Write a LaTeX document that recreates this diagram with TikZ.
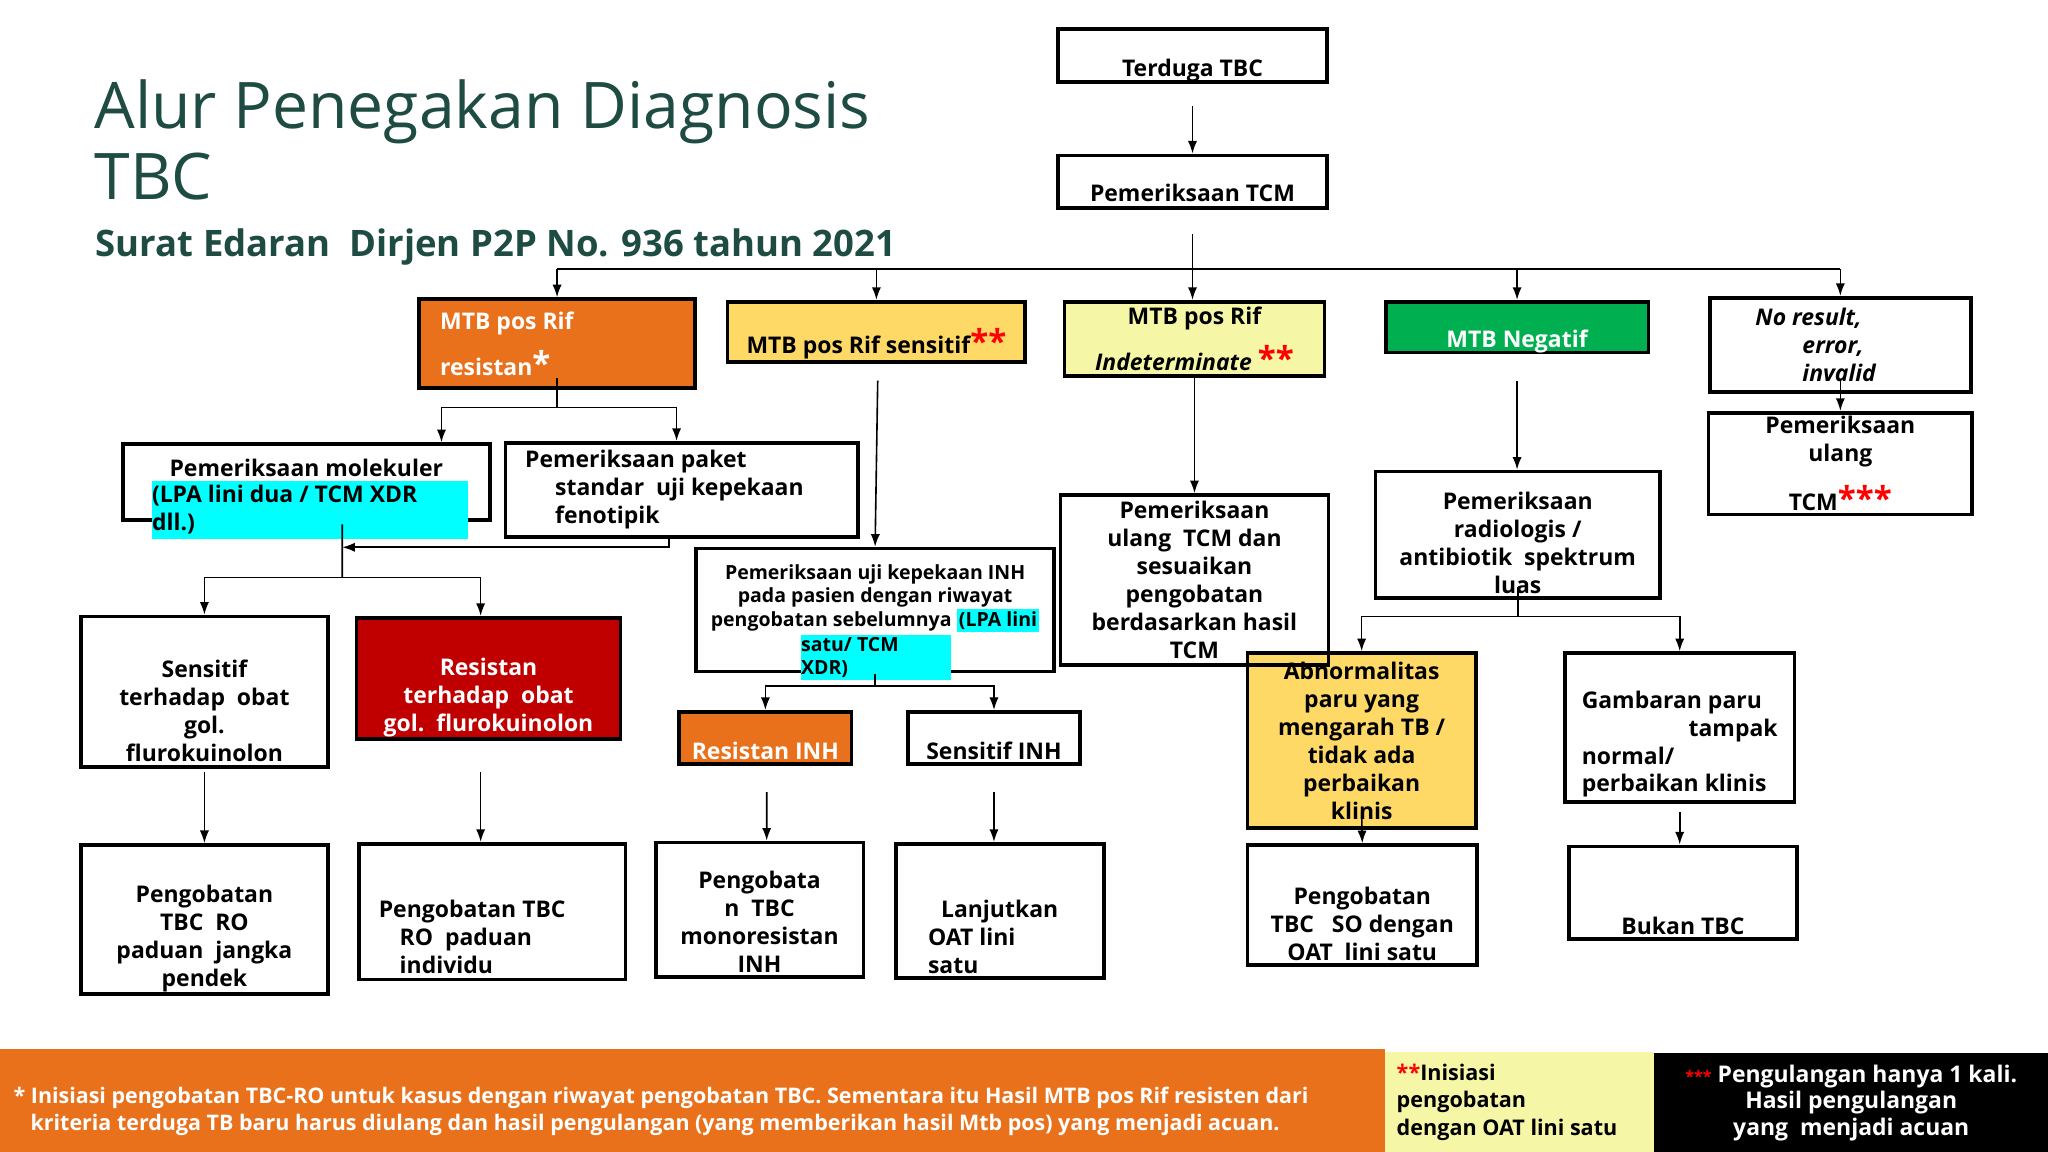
\documentclass[tikz,border=0pt]{standalone}
\usepackage{fontspec}
\setmainfont{Open Sans}
\newfontfamily\titlefont{Open Sans}
\usetikzlibrary{arrows.meta, calc}

\definecolor{tbcorange}{RGB}{233,113,28}
\definecolor{tbcgold}{RGB}{255,217,102}
\definecolor{tbcyellow}{RGB}{246,247,166}
\definecolor{tbcgreen}{RGB}{0,176,80}
\definecolor{tbcred}{RGB}{192,0,0}
\definecolor{tbccyan}{RGB}{0,255,255}
\definecolor{tbctitle}{RGB}{30,76,66}

\newcommand{\boxfont}{\fontsize{10}{12.2}\selectfont\bfseries}
\newcommand{\hlc}[1]{{\setlength{\fboxsep}{1pt}\colorbox{tbccyan}{#1}}}
\newcommand{\pad}[1]{\rule{0pt}{#1}}
\newcommand{\padb}[1]{\rule[-#1]{0pt}{0pt}}

\begin{document}
\begin{tikzpicture}[
        x=0.02cm, y=-0.02cm,
        box/.style={rectangle, draw=black, line width=1.6pt, fill=white, align=center, inner sep=1pt, font=\boxfont},
        sz/.style 2 args={minimum width=#1*0.02cm, minimum height=#2*0.02cm},
        low/.style={text height=#1, text depth=0pt},
        high/.style={text height=0pt, text depth=#1},
        hl/.style={fill=tbccyan, anchor=north west, inner sep=0pt, align=flush left, font=\boxfont},
        band/.style={anchor=north west, inner sep=0pt, font=\fontsize{9.4}{12}\selectfont\bfseries},
        arrow/.style={-{Latex[length=5.5pt,width=4pt]}, line width=0.7pt},
        conn/.style={line width=0.7pt}
    ]
    \fill[white] (0,0) rectangle (1568,882);
    \useasboundingbox (0,0) rectangle (1568,882);

    % Title
    \node[font=\titlefont\fontsize{28}{30.6}\selectfont, text=tbctitle, align=left, anchor=north west, inner sep=0pt] (title) at (72,61) {Alur Penegakan Diagnosis\\TBC};
    \node[font=\fontsize{15.9}{18}\selectfont\bfseries, text=tbctitle, anchor=base west, inner sep=0pt] (subtitle) at (73,196) {Surat Edaran~~Dirjen P2P No. 936 tahun 2021};

    % Top
    \node[box, sz={206}{41}, low=18pt] (terduga) at (913,42.5) {Terduga TBC};
    \node[box, sz={206}{40}, low=17.6pt] (tcm) at (913,139) {Pemeriksaan TCM};

    % Hasil TCM
    \node[box, sz={211}{68}, fill=tbcorange, text=white, text width=3.58cm, align=flush left] (resistan) at (426.5,263) {MTB pos Rif\\[5.8pt]resistan{\Large*}};
    \node[box, sz={228}{46}, fill=tbcgold, low=18.7pt] (sensitif) at (671,254) {MTB pos Rif sensitif\textcolor{red}{\Large**}};
    \node[box, sz={199}{57}, fill=tbcyellow] (indet) at (914.5,259.5) {MTB pos Rif\\[5.8pt]\textit{Indeterminate}~\textcolor{red}{\Large**}};
    \node[box, sz={201}{39}, fill=tbcgreen, text=white, low=18pt] (negatif) at (1161.5,250.5) {MTB Negatif};
    \node[box, sz={200}{72}, text width=2.6cm, align=flush left, font=\boxfont\itshape] (noresult) at (1409,264) {No result,\\\hspace*{0.72cm}error,\\\hspace*{0.72cm}invalid};
    \node[box, sz={202}{78}] (ulang) at (1409,355) {Pemeriksaan\\ulang\\[7pt]TCM\textcolor{red}{\Large***}};

    % Cabang resistan
    \node[box, sz={281}{58}, high=5.1pt] (molekuler) at (234.5,369) {Pemeriksaan molekuler};
    \node[hl, sz={242}{44}, text width=4.84cm] (molhl) at (116,368) {(LPA lini dua / TCM XDR\\dll.)};
    \node[box, sz={270}{72}, text width=4.8cm, align=flush left] (paket) at (522,375) {Pemeriksaan paket\\\hspace*{0.46cm}standar~~uji kepekaan\\\hspace*{0.46cm}fenotipik};
    \node[box, sz={189}{115}] (sensfq) at (156.5,529.5) {\pad{24pt}Sensitif\\terhadap~~obat\\gol.\\flurokuinolon};
    \node[box, sz={202}{93}, fill=tbcred, text=white] (resfq) at (374,519.5) {\pad{24pt}Resistan\\terhadap~~obat\\gol.~~flurokuinolon};
    \node[box, sz={189}{114}] (rojp) at (156.5,704) {\pad{24pt}Pengobatan\\TBC~~RO\\paduan~~jangka\\pendek};
    \node[box, sz={204}{104}, text width=3.48cm, align=flush left] (roind) at (377,698) {\pad{30pt}Pengobatan TBC\\\hspace*{0.32cm}RO~~paduan\\\hspace*{0.32cm}individu};

    % Cabang sensitif
    \node[box, sz={274}{94}, font=\fontsize{8.5}{10.2}\selectfont\bfseries] (inh) at (670,467) {Pemeriksaan uji kepekaan INH\\pada pasien dengan riwayat\\pengobatan sebelumnya \hlc{(LPA lini}\padb{12.6pt}};
    \node[hl, sz={115}{34}, text width=2.3cm, font=\fontsize{8.5}{10.2}\selectfont\bfseries] (inhhl) at (613,486) {satu/ TCM\\XDR)};
    \node[box, sz={132}{40}, fill=tbcorange, text=white, low=18.7pt] (resinh) at (586,565) {Resistan INH};
    \node[box, sz={132}{40}, low=18.7pt] (sensinh) at (761,565) {Sensitif INH};
    \node[box, sz={159}{103}] (mono) at (581.5,696.5) {\pad{18pt}Pengobata\\n~~TBC\\monoresistan\\INH};
    \node[box, sz={159}{103}, text width=2.2cm, align=flush left] (lanjut) at (765.5,697.5) {\pad{30pt}\hspace*{0.2cm}Lanjutkan\\OAT lini\\satu};

    % Cabang negatif
    \node[box, sz={175}{134}, fill=tbcgold] (abnorm) at (1042.5,567) {Abnormalitas\\paru yang\\mengarah TB /\\tidak ada\\perbaikan\\klinis};
    \node[box, sz={205}{130}, fill=none] (ulangtcm) at (914.5,444) {Pemeriksaan\\ulang~~TCM dan\\sesuaikan\\pengobatan\\berdasarkan hasil\\TCM};
    \node[box, sz={218}{97}] (radio) at (1162,409.5) {\pad{15pt}Pemeriksaan\\radiologis /\\antibiotik~~spektrum\\luas};
    \node[box, sz={176}{114}, text width=3.0cm, align=flush left] (gambaran) at (1286,557) {\pad{22pt}Gambaran paru\\\hspace*{\stretch{1}}tampak\\normal/\\perbaikan klinis};
    \node[box, sz={176}{92}] (so) at (1043,693) {\pad{24pt}Pengobatan\\TBC~~~SO dengan\\OAT~~lini satu};
    \node[box, sz={175}{71}, low=36pt] (bukan) at (1288.5,683.5) {Bukan TBC};

    % Keterangan
    \node[band, sz={1060}{79}, fill=tbcorange, text=white, text width=20.8cm, align=flush left, font=\fontsize{9.35}{11.9}\selectfont\bfseries] (footL) at (0,803) {\pad{16pt}* Inisiasi pengobatan TBC-RO untuk kasus dengan riwayat pengobatan TBC. Sementara itu Hasil MTB pos Rif resisten dari\\\hspace*{0.26cm}kriteria terduga TB baru harus diulang dan hasil pengulangan (yang memberikan hasil Mtb pos) yang menjadi acuan.};
    \node[band, sz={206}{77}, fill=tbcyellow, text width=3.76cm, align=flush left] (footM) at (1060,805) {\textcolor{red}{**}Inisiasi\\pengobatan\\dengan OAT lini satu};
    \node[band, sz={302}{76}, fill=black, text=white, align=center, font=\fontsize{10}{11.6}\selectfont\bfseries] (footR) at (1266,806) {\textcolor{red}{\scriptsize***} Pengulangan hanya 1 kali.\\Hasil pengulangan\\yang~~menjadi acuan};

    % Connections
    \coordinate (bus) at (913,206);
    \draw[arrow, shorten <=0.34cm] (terduga) -- (tcm);
    \draw[arrow, shorten <=0.38cm] (tcm.south) -- (tcm.south |- indet.north);
    \draw[conn] (resistan.north |- bus) -- (noresult.north |- bus);
    \foreach \n in {resistan,sensitif,negatif,noresult}
        \draw[arrow] (\n.north |- bus) -- (\n.north);

    \coordinate (rs) at (426.5,312);
    \draw[conn] ($(resistan.south)+(0,-9)$) -- (rs);
    \draw[arrow] (rs) -| ($(molekuler.north)+(103.5,0)$);
    \draw[arrow] (rs) -| ($(paket.north)+(-4,0)$);

    \coordinate (mj) at (262,419);
    \coordinate (ms) at (262,442);
    \draw[conn] ($(molekuler.south)+(27.5,2)$) -- (ms);
    \draw[arrow] ($(paket.south)+(-10,-3)$) |- (mj);
    \draw[arrow] (ms) -| (sensfq.north);
    \draw[arrow] (ms) -| ($(resfq.north)+(-6,0)$);
    \draw[arrow, shorten <=0.06cm] (sensfq) -- (rojp);
    \draw[arrow] ($(resfq.south)+(-6,24)$) -- ($(roind.north)+(-9,0)$);

    \coordinate (is) at (670,525);
    \draw[arrow] ($(sensitif.south)+(1,13)$) -- (inh.north);
    \draw[conn] ($(inh.south)+(0,1)$) -- (is);
    \draw[arrow] (is) -| (resinh.north);
    \draw[arrow] (is) -| (sensinh.north);
    \draw[arrow] ($(resinh.south)+(1,20)$) -- ($(mono.north)+(5.5,0)$);
    \draw[arrow] ($(sensinh.south)+(0,20)$) -- ($(lanjut.north)+(-4.5,0)$);

    \draw[arrow] (indet) -- (ulangtcm);

    \coordinate (rds) at (1162,472);
    \draw[arrow, shorten <=0.4cm] (negatif.south) -- (negatif.south |- radio.north);
    \draw[conn] ($(radio.south)+(0,-10)$) -- (rds);
    \draw[arrow] (rds) -| (abnorm.north);
    \draw[arrow] (rds) -| (gambaran.north);
    \draw[arrow] ($(abnorm.south)+(0,-14)$) -- (so.north);
    \draw[arrow, shorten <=0.12cm] (gambaran.south) -- (gambaran.south |- bukan.north);

    \draw[arrow] ($(noresult.south)+(0,-10)$) -- (ulang.north);
\end{tikzpicture}
\end{document}
